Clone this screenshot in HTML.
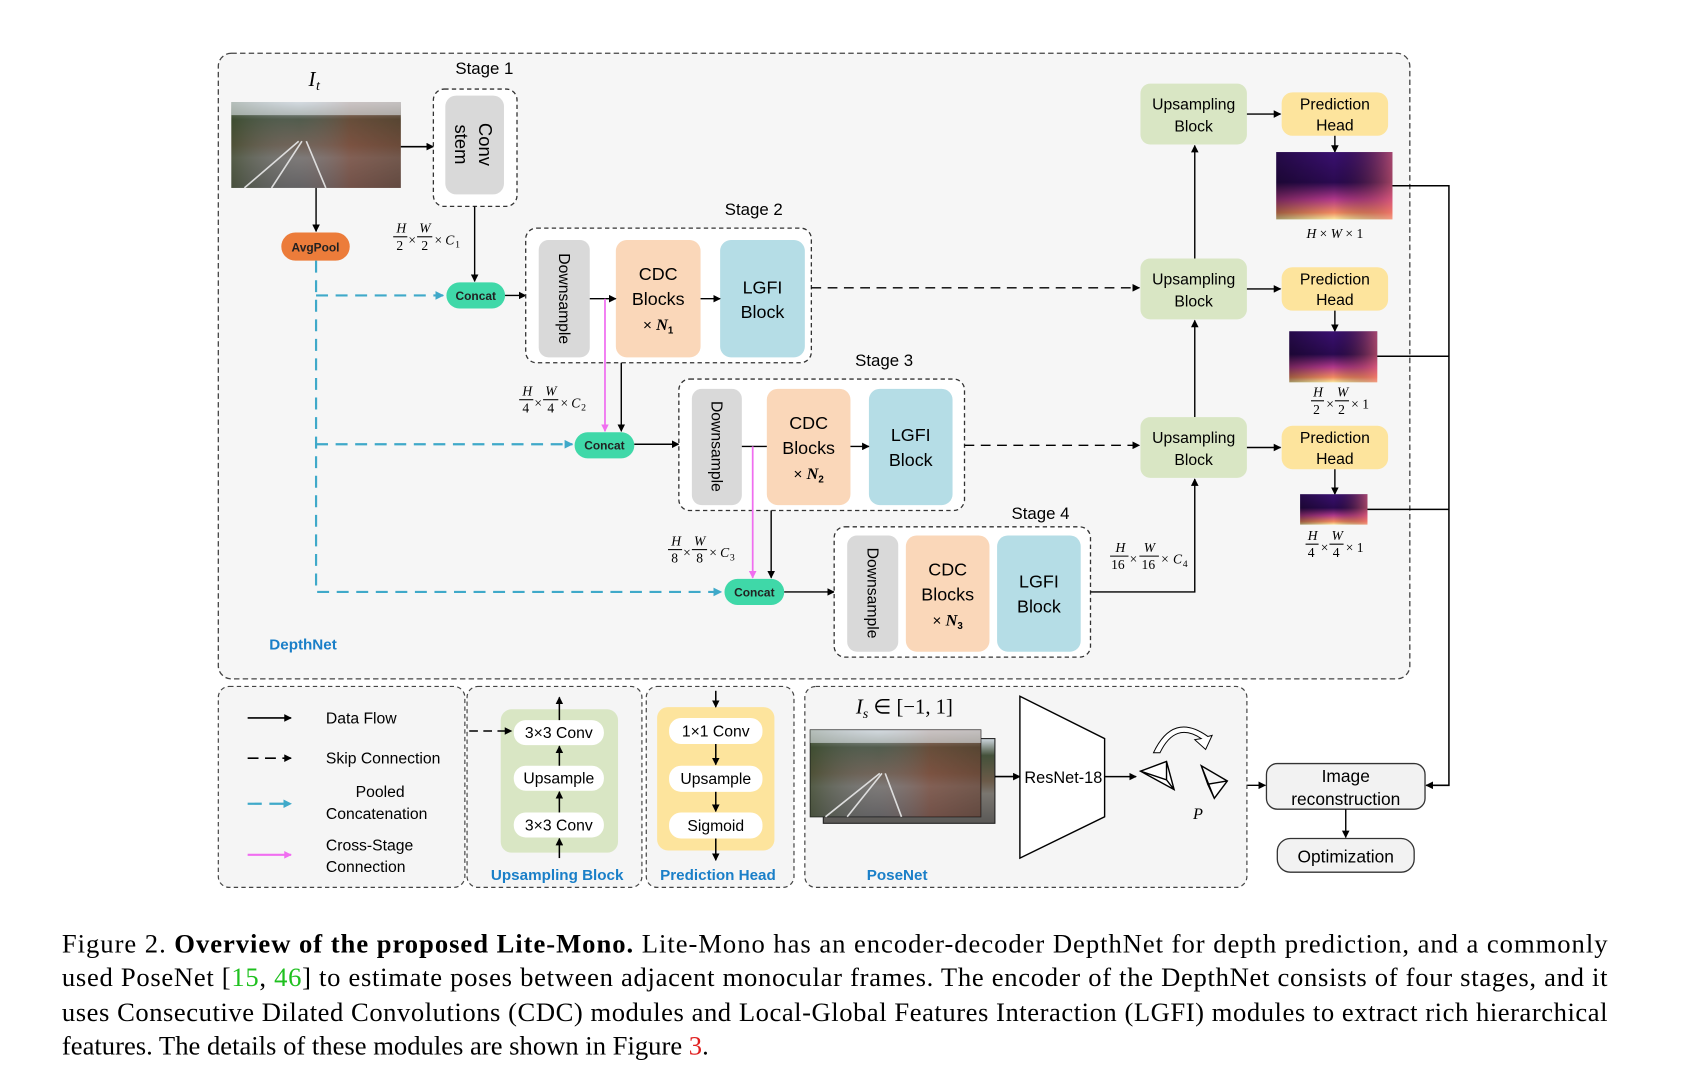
<!DOCTYPE html>
<html><head><meta charset="utf-8"><style>html,body{margin:0;padding:0;background:#fff;width:1702px;height:1084px;overflow:hidden}</style></head><body>
<svg width="1702" height="1084" viewBox="0 0 1567 998" preserveAspectRatio="none" xmlns="http://www.w3.org/2000/svg" font-family="Liberation Sans, sans-serif">
<defs>
<marker id="a" viewBox="0 0 10 10" refX="9" refY="5" markerWidth="7" markerHeight="7" orient="auto-start-reverse" markerUnits="userSpaceOnUse"><path d="M0,0L10,5L0,10z" fill="#000"/></marker>
<marker id="ac" viewBox="0 0 10 10" refX="9" refY="5" markerWidth="8" markerHeight="8" orient="auto" markerUnits="userSpaceOnUse"><path d="M0,0L10,5L0,10z" fill="#3fa9c9"/></marker>
<marker id="ap" viewBox="0 0 10 10" refX="9" refY="5" markerWidth="7" markerHeight="7" orient="auto" markerUnits="userSpaceOnUse"><path d="M0,0L10,5L0,10z" fill="#f06ef0"/></marker>
<linearGradient id="ph" x1="0" y1="0" x2="0" y2="1"><stop offset="0" stop-color="#cfd8e0"/><stop offset="0.2" stop-color="#44513a"/><stop offset="0.5" stop-color="#6b5a48"/><stop offset="0.65" stop-color="#7a7670"/><stop offset="1" stop-color="#5a5856"/></linearGradient>
<linearGradient id="ph2" x1="0" y1="0" x2="1" y2="0"><stop offset="0" stop-color="#3a4a2a" stop-opacity=".6"/><stop offset="0.4" stop-color="#889" stop-opacity=".2"/><stop offset="0.7" stop-color="#8a4a3a" stop-opacity=".5"/><stop offset="1" stop-color="#6a3a2a" stop-opacity=".5"/></linearGradient>
<linearGradient id="dm" x1="0" y1="0" x2="0" y2="1"><stop offset="0" stop-color="#3a1070"/><stop offset="0.45" stop-color="#2a0a50"/><stop offset="0.7" stop-color="#b0388a"/><stop offset="0.9" stop-color="#f08a60"/><stop offset="1" stop-color="#fbe9a0"/></linearGradient>
<linearGradient id="dm2" x1="0" y1="0" x2="1" y2="0"><stop offset="0" stop-color="#000" stop-opacity=".35"/><stop offset="0.5" stop-color="#000" stop-opacity="0"/><stop offset="1" stop-color="#f06a70" stop-opacity=".6"/></linearGradient>
</defs>

<rect x="201" y="49" width="1097" height="576" rx="12" fill="#f6f6f6" stroke="#444" stroke-dasharray="5,3" stroke-width="1.2"/>
<text x="279" y="598" font-size="14" font-weight="bold" fill="#1a7fc8" text-anchor="middle">DepthNet</text>

<text x="284" y="79" font-family="Liberation Serif, serif" font-style="italic" font-size="19">I</text><text x="291" y="83" font-family="Liberation Serif, serif" font-style="italic" font-size="13">t</text>
<rect x="213" y="94" width="156" height="79" fill="url(#ph)"/><rect x="213" y="94" width="156" height="79" fill="url(#ph2)"/>
<path d="M225 173 L275 130 M250 173 L278 130 M300 173 L282 130" stroke="#ddd" stroke-width="1.5"/>
<rect x="213" y="94" width="156" height="12" fill="#dfe6ea" opacity=".6"/>
<line x1="369" y1="135" x2="399" y2="135" stroke="#000" stroke-width="1.5" marker-end="url(#a)"/>
<line x1="291" y1="173" x2="291" y2="213" stroke="#000" stroke-width="1.3" marker-end="url(#a)"/>
<rect x="259" y="214" width="63" height="26" rx="13" fill="#ec7c3a"/>
<text x="290.5" y="231.5" font-size="11" font-weight="bold" text-anchor="middle" fill="#222">AvgPool</text>

<g stroke="#3fa9c9" stroke-width="2" stroke-dasharray="11,7" fill="none">
<path d="M291 240 V545 H664" marker-end="url(#ac)"/>
<path d="M291 272 H408" marker-end="url(#ac)"/>
<path d="M291 409 H527" marker-end="url(#ac)"/>
</g>

<text x="446" y="68" font-size="15.5" text-anchor="middle">Stage 1</text>
<rect x="399" y="82" width="77" height="108" rx="10" fill="#fff" stroke="#333" stroke-dasharray="4,3" stroke-width="1.2"/>
<rect x="410" y="88" width="54" height="91" rx="10" fill="#d9d9d9"/>
<text transform="translate(437,133) rotate(90)" font-size="17" text-anchor="middle"><tspan x="0" dy="-4">Conv</tspan><tspan x="0" dy="22">stem</tspan></text>
<line x1="437" y1="190" x2="437" y2="259" stroke="#000" stroke-width="1.3" marker-end="url(#a)"/>

<g font-family="Liberation Serif, serif" font-style="italic" font-size="12.5">
<g transform="translate(362,214)"><text x="3" y="0">H</text><line x1="0" y1="4" x2="13" y2="4" stroke="#000"/><text x="3" y="16" font-style="normal">2</text><text x="14" y="11" font-style="normal">×</text><text x="24" y="0">W</text><line x1="22" y1="4" x2="36" y2="4" stroke="#000"/><text x="26" y="16" font-style="normal">2</text><text x="38" y="11" font-style="normal">×</text><text x="48" y="11">C</text><text x="57" y="14" font-size="9" font-style="normal">1</text></g>
<g transform="translate(478,364)"><text x="3" y="0">H</text><line x1="0" y1="4" x2="13" y2="4" stroke="#000"/><text x="3" y="16" font-style="normal">4</text><text x="14" y="11" font-style="normal">×</text><text x="24" y="0">W</text><line x1="22" y1="4" x2="36" y2="4" stroke="#000"/><text x="26" y="16" font-style="normal">4</text><text x="38" y="11" font-style="normal">×</text><text x="48" y="11">C</text><text x="57" y="14" font-size="9" font-style="normal">2</text></g>
<g transform="translate(615,502)"><text x="3" y="0">H</text><line x1="0" y1="4" x2="13" y2="4" stroke="#000"/><text x="3" y="16" font-style="normal">8</text><text x="14" y="11" font-style="normal">×</text><text x="24" y="0">W</text><line x1="22" y1="4" x2="36" y2="4" stroke="#000"/><text x="26" y="16" font-style="normal">8</text><text x="38" y="11" font-style="normal">×</text><text x="48" y="11">C</text><text x="57" y="14" font-size="9" font-style="normal">3</text></g>
<g transform="translate(1022,508)"><text x="5" y="0">H</text><line x1="0" y1="4" x2="17" y2="4" stroke="#000"/><text x="1" y="16" font-style="normal">16</text><text x="18" y="11" font-style="normal">×</text><text x="31" y="0">W</text><line x1="27" y1="4" x2="45" y2="4" stroke="#000"/><text x="29" y="16" font-style="normal">16</text><text x="47" y="11" font-style="normal">×</text><text x="58" y="11">C</text><text x="67" y="14" font-size="9" font-style="normal">4</text></g>
</g>

<g font-size="11" font-weight="bold" text-anchor="middle" fill="#222">
<rect x="411" y="260" width="54" height="24" rx="12" fill="#3fd8a8"/><text x="438" y="276">Concat</text>
<rect x="529" y="398" width="55" height="24" rx="12" fill="#3fd8a8"/><text x="556.5" y="414">Concat</text>
<rect x="667" y="533" width="55" height="24" rx="12" fill="#3fd8a8"/><text x="694.5" y="549">Concat</text>
</g>
<line x1="465" y1="272" x2="484" y2="272" stroke="#000" stroke-width="1.3" marker-end="url(#a)"/>
<line x1="584" y1="409" x2="625" y2="409" stroke="#000" stroke-width="1.3" marker-end="url(#a)"/>
<line x1="722" y1="545" x2="768" y2="545" stroke="#000" stroke-width="1.3" marker-end="url(#a)"/>

<text x="694" y="198" font-size="15.5" text-anchor="middle">Stage 2</text>
<rect x="484" y="210" width="263" height="124" rx="10" fill="#fff" stroke="#333" stroke-dasharray="4,3" stroke-width="1.2"/>
<rect x="496" y="221" width="47" height="108" rx="9" fill="#d9d9d9"/>
<text transform="translate(519.5,275) rotate(90)" font-size="14.5" text-anchor="middle" dy="5">Downsample</text>
<rect x="567" y="221" width="78" height="108" rx="10" fill="#fad7b9"/>
<text x="606" y="258" font-size="16.5" text-anchor="middle">CDC</text><text x="606" y="281" font-size="16.5" text-anchor="middle">Blocks</text>
<text x="606" y="304" font-size="14" text-anchor="middle">× <tspan font-family="Liberation Serif, serif" font-weight="bold" font-style="italic" font-size="15">N</tspan><tspan font-size="9" font-weight="bold" dy="3">1</tspan></text>
<rect x="663" y="221" width="78" height="108" rx="10" fill="#b5dde6"/>
<text x="702" y="270" font-size="16.5" text-anchor="middle">LGFI</text><text x="702" y="293" font-size="16.5" text-anchor="middle">Block</text>
<line x1="543" y1="275" x2="567" y2="275" stroke="#000" stroke-width="1.3" marker-end="url(#a)"/>
<line x1="645" y1="275" x2="663" y2="275" stroke="#000" stroke-width="1.3" marker-end="url(#a)"/>

<text x="814" y="337" font-size="15.5" text-anchor="middle">Stage 3</text>
<rect x="625" y="349" width="263" height="121" rx="10" fill="#fff" stroke="#333" stroke-dasharray="4,3" stroke-width="1.2"/>
<rect x="637" y="358" width="46" height="107" rx="9" fill="#d9d9d9"/>
<text transform="translate(660,411) rotate(90)" font-size="14.5" text-anchor="middle" dy="5">Downsample</text>
<rect x="706" y="358" width="77" height="107" rx="10" fill="#fad7b9"/>
<text x="744.5" y="395" font-size="16.5" text-anchor="middle">CDC</text><text x="744.5" y="418" font-size="16.5" text-anchor="middle">Blocks</text>
<text x="744.5" y="441" font-size="14" text-anchor="middle">× <tspan font-family="Liberation Serif, serif" font-weight="bold" font-style="italic" font-size="15">N</tspan><tspan font-size="9" font-weight="bold" dy="3">2</tspan></text>
<rect x="800" y="358" width="77" height="107" rx="10" fill="#b5dde6"/>
<text x="838.5" y="406" font-size="16.5" text-anchor="middle">LGFI</text><text x="838.5" y="429" font-size="16.5" text-anchor="middle">Block</text>
<line x1="683" y1="411" x2="706" y2="411" stroke="#000" stroke-width="1.3"/>
<line x1="783" y1="411" x2="800" y2="411" stroke="#000" stroke-width="1.3" marker-end="url(#a)"/>

<text x="958" y="478" font-size="15.5" text-anchor="middle">Stage 4</text>
<rect x="768" y="485" width="236" height="120" rx="10" fill="#fff" stroke="#333" stroke-dasharray="4,3" stroke-width="1.2"/>
<rect x="780" y="493" width="47" height="107" rx="9" fill="#d9d9d9"/>
<text transform="translate(803.5,546) rotate(90)" font-size="14.5" text-anchor="middle" dy="5">Downsample</text>
<rect x="834" y="493" width="77" height="107" rx="10" fill="#fad7b9"/>
<text x="872.5" y="530" font-size="16.5" text-anchor="middle">CDC</text><text x="872.5" y="553" font-size="16.5" text-anchor="middle">Blocks</text>
<text x="872.5" y="576" font-size="14" text-anchor="middle">× <tspan font-family="Liberation Serif, serif" font-weight="bold" font-style="italic" font-size="15">N</tspan><tspan font-size="9" font-weight="bold" dy="3">3</tspan></text>
<rect x="918" y="493" width="77" height="107" rx="10" fill="#b5dde6"/>
<text x="956.5" y="541" font-size="16.5" text-anchor="middle">LGFI</text><text x="956.5" y="564" font-size="16.5" text-anchor="middle">Block</text>

<line x1="572" y1="334" x2="572" y2="397" stroke="#000" stroke-width="1.3" marker-end="url(#a)"/>
<line x1="710" y1="470" x2="710" y2="532" stroke="#000" stroke-width="1.3" marker-end="url(#a)"/>
<line x1="557" y1="275" x2="557" y2="397" stroke="#f06ef0" stroke-width="1.6" marker-end="url(#ap)"/>
<line x1="693" y1="411" x2="693" y2="532" stroke="#f06ef0" stroke-width="1.6" marker-end="url(#ap)"/>

<line x1="747" y1="265" x2="1049" y2="265" stroke="#000" stroke-width="1.3" stroke-dasharray="9,6" marker-end="url(#a)"/>
<line x1="888" y1="410" x2="1049" y2="410" stroke="#000" stroke-width="1.3" stroke-dasharray="9,6" marker-end="url(#a)"/>
<path d="M1004 545 H1100 V441" stroke="#000" stroke-width="1.3" fill="none" marker-end="url(#a)"/>
<line x1="1100" y1="384" x2="1100" y2="295" stroke="#000" stroke-width="1.3" marker-end="url(#a)"/>
<line x1="1100" y1="238" x2="1100" y2="134" stroke="#000" stroke-width="1.3" marker-end="url(#a)"/>

<g font-size="14.5" text-anchor="middle">
<rect x="1050" y="77" width="98" height="56" rx="9" fill="#d9e6c4"/><text x="1099" y="101">Upsampling</text><text x="1099" y="121">Block</text>
<rect x="1050" y="238" width="98" height="56" rx="9" fill="#d9e6c4"/><text x="1099" y="262">Upsampling</text><text x="1099" y="282">Block</text>
<rect x="1050" y="384" width="98" height="56" rx="9" fill="#d9e6c4"/><text x="1099" y="408">Upsampling</text><text x="1099" y="428">Block</text>
<rect x="1180" y="85" width="98" height="40" rx="10" fill="#fde49d"/><text x="1229" y="101">Prediction</text><text x="1229" y="120">Head</text>
<rect x="1180" y="246" width="98" height="40" rx="10" fill="#fde49d"/><text x="1229" y="262">Prediction</text><text x="1229" y="281">Head</text>
<rect x="1180" y="392" width="98" height="40" rx="10" fill="#fde49d"/><text x="1229" y="408">Prediction</text><text x="1229" y="427">Head</text>
</g>
<g stroke="#000" stroke-width="1.3">
<line x1="1148" y1="105" x2="1179" y2="105" marker-end="url(#a)"/>
<line x1="1148" y1="266" x2="1179" y2="266" marker-end="url(#a)"/>
<line x1="1148" y1="412" x2="1179" y2="412" marker-end="url(#a)"/>
<line x1="1229" y1="125" x2="1229" y2="140" marker-end="url(#a)"/>
<line x1="1229" y1="286" x2="1229" y2="305" marker-end="url(#a)"/>
<line x1="1229" y1="432" x2="1229" y2="455" marker-end="url(#a)"/>
</g>
<rect x="1175" y="140" width="107" height="62" fill="url(#dm)"/><rect x="1175" y="140" width="107" height="62" fill="url(#dm2)"/>
<rect x="1187" y="305" width="81" height="47" fill="url(#dm)"/><rect x="1187" y="305" width="81" height="47" fill="url(#dm2)"/>
<rect x="1197" y="455" width="62" height="28" fill="url(#dm)"/><rect x="1197" y="455" width="62" height="28" fill="url(#dm2)"/>
<g font-family="Liberation Serif, serif" font-style="italic" font-size="12.5">
<text x="1229" y="219" text-anchor="middle">H <tspan font-style="normal">×</tspan> W <tspan font-style="normal">× 1</tspan></text>
<g transform="translate(1207,365)"><text x="2" y="0">H</text><line x1="0" y1="4" x2="12" y2="4" stroke="#000"/><text x="2" y="16" font-style="normal">2</text><text x="14" y="11" font-style="normal">×</text><text x="24" y="0">W</text><line x1="22" y1="4" x2="35" y2="4" stroke="#000"/><text x="25" y="16" font-style="normal">2</text><text x="37" y="11" font-style="normal">× 1</text></g>
<g transform="translate(1202,497)"><text x="2" y="0">H</text><line x1="0" y1="4" x2="12" y2="4" stroke="#000"/><text x="2" y="16" font-style="normal">4</text><text x="14" y="11" font-style="normal">×</text><text x="24" y="0">W</text><line x1="22" y1="4" x2="35" y2="4" stroke="#000"/><text x="25" y="16" font-style="normal">4</text><text x="37" y="11" font-style="normal">× 1</text></g>
</g>
<path d="M1282 171 H1334 V723 H1313" stroke="#000" stroke-width="1.4" fill="none" marker-end="url(#a)"/>
<line x1="1268" y1="328" x2="1334" y2="328" stroke="#000" stroke-width="1.4"/>
<line x1="1259" y1="469" x2="1334" y2="469" stroke="#000" stroke-width="1.4"/>

<rect x="1166" y="703" width="146" height="42" rx="10" fill="#f2f2f2" stroke="#333" stroke-width="1.2"/>
<text x="1239" y="720" font-size="16" text-anchor="middle">Image</text><text x="1239" y="741" font-size="16" text-anchor="middle">reconstruction</text>
<line x1="1239" y1="745" x2="1239" y2="771" stroke="#000" stroke-width="1.3" marker-end="url(#a)"/>
<rect x="1176" y="772" width="126" height="31" rx="12" fill="#f2f2f2" stroke="#333" stroke-width="1.2"/>
<text x="1239" y="794" font-size="16" text-anchor="middle">Optimization</text>
<line x1="1148" y1="723" x2="1165" y2="723" stroke="#000" stroke-width="1.3" marker-end="url(#a)"/>

<rect x="201" y="632" width="227" height="185" rx="10" fill="#f5f5f5" stroke="#444" stroke-dasharray="4,3" stroke-width="1.1"/>
<line x1="228" y1="661" x2="268" y2="661" stroke="#000" stroke-width="1.5" marker-end="url(#a)"/>
<line x1="228" y1="698" x2="268" y2="698" stroke="#000" stroke-width="1.5" stroke-dasharray="10,6" marker-end="url(#a)"/>
<line x1="228" y1="740" x2="268" y2="740" stroke="#3fa9c9" stroke-width="2" stroke-dasharray="13,7" marker-end="url(#ac)"/>
<line x1="228" y1="787" x2="268" y2="787" stroke="#f06ef0" stroke-width="2" marker-end="url(#ap)"/>
<g font-size="14.5">
<text x="300" y="666">Data Flow</text>
<text x="300" y="703">Skip Connection</text>
<text x="350" y="734" text-anchor="middle">Pooled</text><text x="300" y="754">Concatenation</text>
<text x="300" y="783">Cross-Stage</text><text x="300" y="803">Connection</text>
</g>

<rect x="430" y="632" width="161" height="185" rx="10" fill="#f5f5f5" stroke="#444" stroke-dasharray="4,3" stroke-width="1.1"/>
<rect x="461" y="653" width="108" height="132" rx="10" fill="#d9e6c4"/>
<g font-size="14.5" text-anchor="middle">
<rect x="473" y="663" width="83" height="23" rx="11" fill="#fff"/><text x="514.5" y="679.5">3×3 Conv</text>
<rect x="473" y="705" width="83" height="23" rx="11" fill="#fff"/><text x="514.5" y="721.5">Upsample</text>
<rect x="473" y="748" width="83" height="23" rx="11" fill="#fff"/><text x="514.5" y="764.5">3×3 Conv</text>
</g>
<g stroke="#000" stroke-width="1.4">
<line x1="515" y1="663" x2="515" y2="642" marker-end="url(#a)"/>
<line x1="515" y1="705" x2="515" y2="687" marker-end="url(#a)"/>
<line x1="515" y1="748" x2="515" y2="729" marker-end="url(#a)"/>
<line x1="515" y1="790" x2="515" y2="772" marker-end="url(#a)"/>
<line x1="432" y1="673" x2="471" y2="673" stroke-dasharray="8,5" marker-end="url(#a)"/>
</g>
<text x="513" y="810" font-size="14" font-weight="bold" fill="#1a7fc8" text-anchor="middle">Upsampling Block</text>

<rect x="595" y="632" width="136" height="185" rx="10" fill="#f5f5f5" stroke="#444" stroke-dasharray="4,3" stroke-width="1.1"/>
<rect x="605" y="651" width="108" height="132" rx="10" fill="#fde49d"/>
<g font-size="14.5" text-anchor="middle">
<rect x="616" y="661" width="86" height="24" rx="11" fill="#fff"/><text x="659" y="678">1×1 Conv</text>
<rect x="616" y="705" width="86" height="24" rx="11" fill="#fff"/><text x="659" y="722">Upsample</text>
<rect x="616" y="748" width="86" height="24" rx="11" fill="#fff"/><text x="659" y="765">Sigmoid</text>
</g>
<g stroke="#000" stroke-width="1.4">
<line x1="659" y1="636" x2="659" y2="651" marker-end="url(#a)"/>
<line x1="659" y1="685" x2="659" y2="704" marker-end="url(#a)"/>
<line x1="659" y1="729" x2="659" y2="747" marker-end="url(#a)"/>
<line x1="659" y1="772" x2="659" y2="792" marker-end="url(#a)"/>
</g>
<text x="661" y="810" font-size="14" font-weight="bold" fill="#1a7fc8" text-anchor="middle">Prediction Head</text>

<rect x="741" y="632" width="407" height="185" rx="10" fill="#f5f5f5" stroke="#444" stroke-dasharray="4,3" stroke-width="1.1"/>
<text x="826" y="810" font-size="14" font-weight="bold" fill="#1a7fc8" text-anchor="middle">PoseNet</text>
<text x="788" y="657" font-family="Liberation Serif, serif" font-size="19"><tspan font-style="italic">I</tspan><tspan font-style="italic" font-size="13" dy="4">s</tspan><tspan dy="-4"> ∈ [−1, 1]</tspan></text>
<rect x="758" y="680" width="158" height="78" fill="url(#ph)" stroke="#222"/>
<rect x="746" y="672" width="157" height="80" fill="url(#ph)" stroke="#222"/><rect x="746" y="672" width="157" height="80" fill="url(#ph2)"/>
<rect x="746" y="672" width="157" height="12" fill="#dfe6ea" opacity=".6"/>
<path d="M760 752 L810 712 M780 752 L812 712 M830 752 L815 712" stroke="#ddd" stroke-width="1.5"/>
<line x1="916" y1="715" x2="939" y2="715" stroke="#000" stroke-width="1.5" marker-end="url(#a)"/>
<path d="M939 641 L1017 680 L1017 752 L939 790 Z" fill="#fff" stroke="#000" stroke-width="1.3"/>
<text x="979" y="721" font-size="15" text-anchor="middle">ResNet-18</text>
<line x1="1017" y1="715" x2="1046" y2="715" stroke="#000" stroke-width="1.3" marker-end="url(#a)"/>
<g stroke="#000" stroke-width="1.3" fill="#fff">
<path d="M1050 710 L1074 701 L1081 727 Z M1050 710 L1074 718 L1081 727 M1074 701 L1074 718"/>
<path d="M1106 705 L1130 719 L1118 735 Z M1106 705 L1112 722 L1130 719 M1112 722 L1118 735"/>
<path d="M1062 693 Q1080 655 1112 678 L1116 677 L1110 690 L1100 681 L1106 680 Q1082 664 1068 693 Z" stroke-width="0.9"/>
</g>
<text x="1103" y="754" font-family="Liberation Serif, serif" font-style="italic" font-size="15" text-anchor="middle">P</text>

<g font-family="Liberation Serif, serif" font-size="24.5" fill="#000">
<text x="57" y="877" textLength="1423" lengthAdjust="spacing">Figure 2.  <tspan font-weight="bold">Overview of the proposed Lite-Mono.</tspan> Lite-Mono has an encoder-decoder DepthNet for depth prediction, and a commonly</text>
<text x="57" y="908" textLength="1423" lengthAdjust="spacing">used PoseNet [<tspan fill="#1fc01f">15</tspan>, <tspan fill="#1fc01f">46</tspan>] to estimate poses between adjacent monocular frames. The encoder of the DepthNet consists of four stages, and it</text>
<text x="57" y="940" textLength="1423" lengthAdjust="spacing">uses Consecutive Dilated Convolutions (CDC) modules and Local-Global Features Interaction (LGFI) modules to extract rich hierarchical</text>
<text x="57" y="971">features. The details of these modules are shown in Figure <tspan fill="#e02020">3</tspan>.</text>
</g>
</svg>
</body></html>
